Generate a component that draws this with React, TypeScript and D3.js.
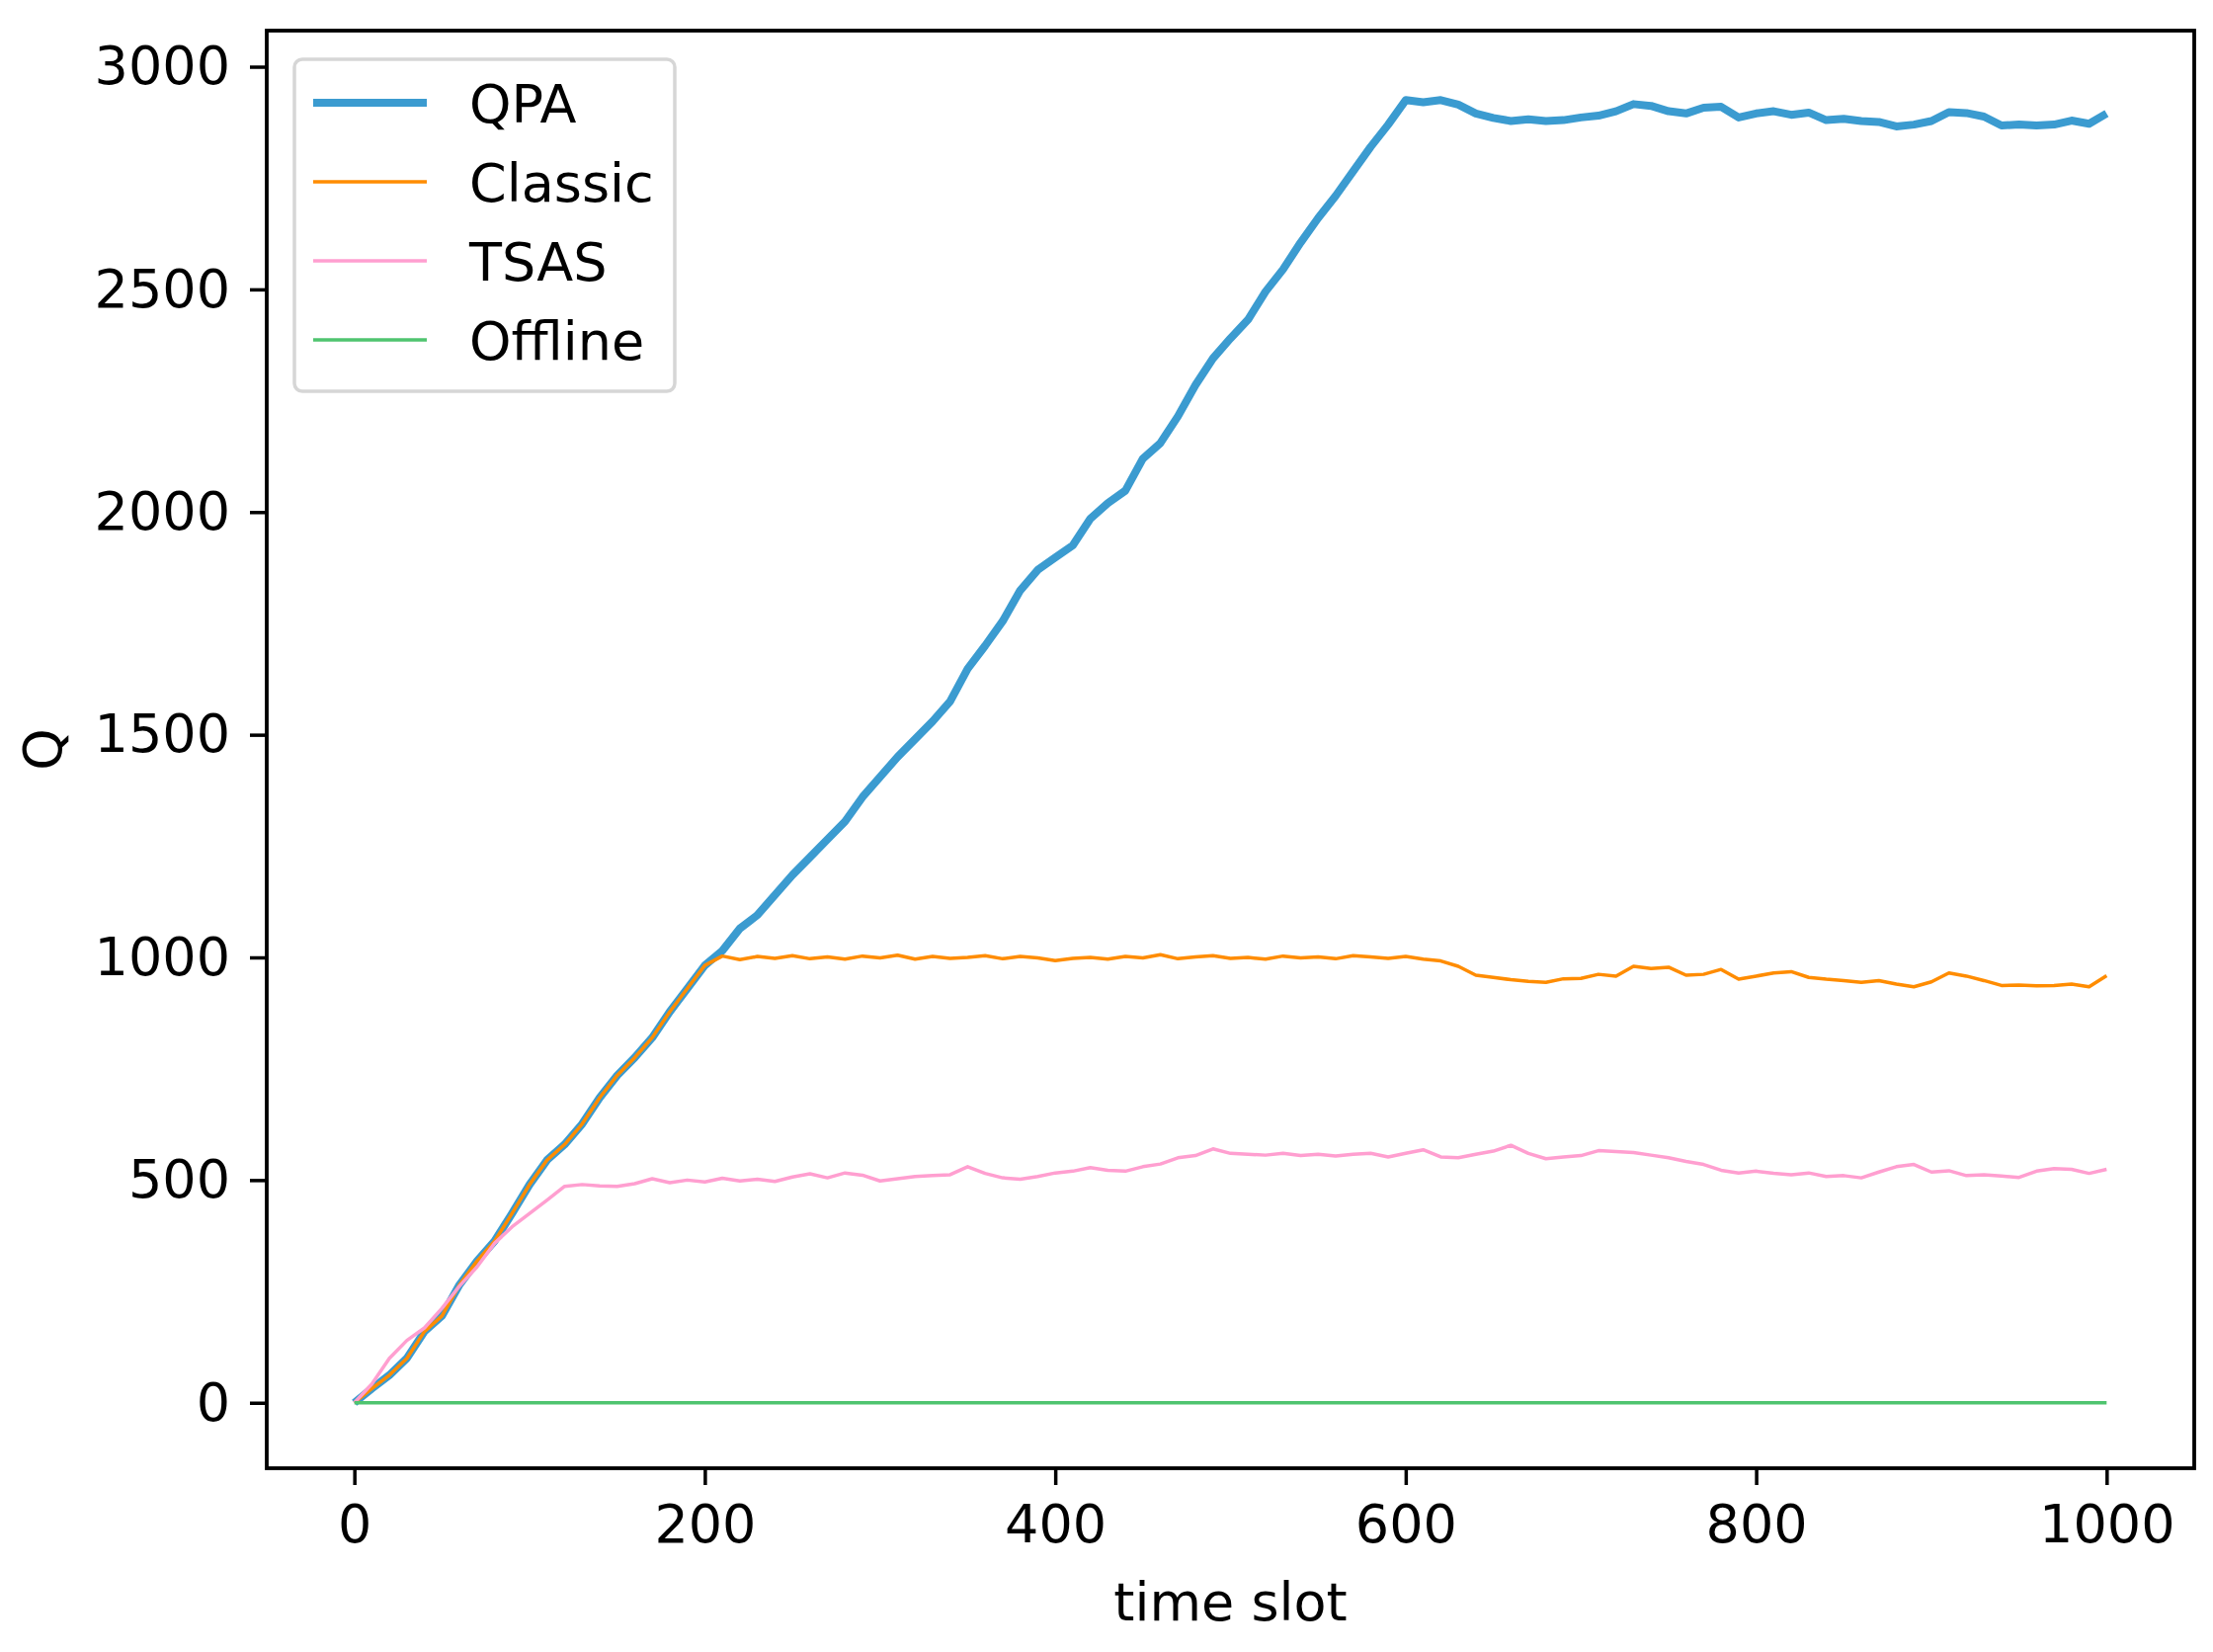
import * as d3 from "d3";
import { useRef, useEffect } from "react";

// time slots sampled every 10 slots
const timeSlots = [
  0, 10, 20, 30, 40, 50, 60, 70, 80, 90, 100, 110, 120, 130, 140, 150, 160, 170, 180, 190,
  200, 210, 220, 230, 240, 250, 260, 270, 280, 290, 300, 310, 320, 330, 340, 350, 360, 370, 380, 390,
  400, 410, 420, 430, 440, 450, 460, 470, 480, 490, 500, 510, 520, 530, 540, 550, 560, 570, 580, 590,
  600, 610, 620, 630, 640, 650, 660, 670, 680, 690, 700, 710, 720, 730, 740, 750, 760, 770, 780, 790,
  800, 810, 820, 830, 840, 850, 860, 870, 880, 890, 900, 910, 920, 930, 940, 950, 960, 970, 980, 990,
  1000,
];

const qpaValues = [
  0, 32, 62, 100, 160, 195, 265, 318, 363, 425, 490, 545, 580, 626, 685, 735, 775, 820, 878, 930,
  982, 1015, 1065, 1095, 1140, 1185, 1225, 1265, 1305, 1360, 1405, 1450, 1490, 1530, 1575, 1648, 1700, 1755, 1824, 1870,
  1898, 1925, 1985, 2020, 2048, 2120, 2155, 2215, 2285, 2345, 2390, 2432, 2495, 2545, 2605, 2660, 2710, 2765, 2820, 2870,
  2925, 2920, 2925, 2915, 2895, 2885, 2878, 2882, 2878, 2880, 2886, 2890, 2900, 2916, 2912, 2900, 2895, 2908, 2910, 2886,
  2895, 2900, 2892, 2897, 2880, 2883, 2878, 2876, 2866, 2870, 2878, 2898, 2896, 2888, 2868, 2870, 2868, 2870, 2879, 2872,
  2895,
];

const classicValues = [
  0, 32, 62, 100, 160, 195, 265, 318, 363, 425, 490, 545, 580, 626, 685, 735, 775, 820, 878, 930,
  982, 1003, 995, 1002, 998, 1004, 997, 1001, 996, 1003, 999, 1005, 996, 1002, 998, 1000, 1004, 997, 1002, 999,
  993, 998, 1000, 996, 1002, 999, 1006, 997, 1001, 1004, 998, 1000, 996, 1003, 999, 1001, 997, 1004, 1001, 998,
  1002, 996, 992, 980, 960, 955, 950, 946, 944, 952, 953, 962, 958, 980, 975, 978, 960, 962, 973, 951,
  958, 965, 968, 955, 951, 948, 944, 948, 940, 934, 945, 965, 958, 948, 937, 938, 936, 937, 940, 934,
  959,
];

const tsasValues = [
  0, 42, 100, 140, 168, 212, 262, 305, 358, 395, 425, 455, 486, 490, 487, 486, 492, 503, 494, 500,
  496, 504, 498, 502, 497, 507, 514, 505, 516, 511, 498, 503, 508, 510, 512, 530, 515, 505, 502, 508,
  516, 520, 528, 522, 520, 530, 536, 550, 555, 570, 560, 558, 556, 560, 555, 558, 554, 558, 560, 552,
  560, 568, 552, 550, 558, 565, 578, 560, 548, 552, 555, 566, 564, 562, 556, 550, 542, 535, 522, 516,
  520, 515, 512, 516, 508, 510, 505, 518, 530, 535, 518, 521, 510, 512, 509, 506, 520, 526, 524, 515,
  524,
];

const offlineValues = [
  0, 0, 0, 0, 0, 0, 0, 0, 0, 0, 0, 0, 0, 0, 0, 0, 0, 0, 0, 0,
  0, 0, 0, 0, 0, 0, 0, 0, 0, 0, 0, 0, 0, 0, 0, 0, 0, 0, 0, 0,
  0, 0, 0, 0, 0, 0, 0, 0, 0, 0, 0, 0, 0, 0, 0, 0, 0, 0, 0, 0,
  0, 0, 0, 0, 0, 0, 0, 0, 0, 0, 0, 0, 0, 0, 0, 0, 0, 0, 0, 0,
  0, 0, 0, 0, 0, 0, 0, 0, 0, 0, 0, 0, 0, 0, 0, 0, 0, 0, 0, 0,
  0,
];

const seriesNames = ["QPA", "Classic", "TSAS", "Offline"];
const xTicks = [0, 200, 400, 600, 800, 1000];
const yTicks = [0, 500, 1000, 1500, 2000, 2500, 3000];

export default function App() {
  const ref = useRef<SVGSVGElement>(null);

  useEffect(() => {
    const width = 2240;
    const height = 1672;
    const left = 270, right = 2221, top = 31, bottom = 1486;
    const font = "'DejaVu Sans', sans-serif";
    const fontSize = 54;

    const x = d3.scaleLinear().domain([-50, 1050]).range([left, right]);
    const y = d3.scaleLinear().domain([-147, 3081]).range([bottom, top]);

    const svg = d3.select(ref.current)
      .attr("width", width)
      .attr("height", height)
      .attr("viewBox", `0 0 ${width} ${height}`)
      .style("font-family", font);

    svg.selectAll("*").remove();

    svg.append("rect").attr("width", width).attr("height", height).attr("fill", "#fff");

    const series = [
      { name: seriesNames[0], values: qpaValues, color: "#3b9bd0", width: 8 },
      { name: seriesNames[1], values: classicValues, color: "#ff8c00", width: 3.5 },
      { name: seriesNames[2], values: tsasValues, color: "#ff9fd0", width: 3.5 },
      { name: seriesNames[3], values: offlineValues, color: "#4fc46f", width: 3.5 },
    ];

    const line = d3.line<number>()
      .x((_, i) => x(timeSlots[i]))
      .y(d => y(d));

    // --- lines ---
    const plot = svg.append("g");
    series.forEach(s => {
      plot.append("path")
        .datum(s.values)
        .attr("d", line)
        .attr("fill", "none")
        .attr("stroke", s.color)
        .attr("stroke-width", s.width)
        .attr("stroke-linejoin", "round")
        .attr("stroke-linecap", "butt");
    });

    // --- axes ---
    svg.append("g")
      .attr("transform", `translate(0,${bottom})`)
      .call(d3.axisBottom(x).tickValues(xTicks).tickSize(17).tickPadding(20).tickFormat(d3.format("d")))
      .call(g => g.select(".domain").remove())
      .call(g => g.selectAll(".tick line").attr("stroke", "#000").attr("stroke-width", 3.5))
      .call(g => g.selectAll(".tick text")
        .attr("font-family", font)
        .attr("font-size", fontSize)
        .attr("fill", "#000"));

    svg.append("g")
      .attr("transform", `translate(${left},0)`)
      .call(d3.axisLeft(y).tickValues(yTicks).tickSize(17).tickPadding(20).tickFormat(d3.format("d")))
      .call(g => g.select(".domain").remove())
      .call(g => g.selectAll(".tick line").attr("stroke", "#000").attr("stroke-width", 3.5))
      .call(g => g.selectAll(".tick text")
        .attr("font-family", font)
        .attr("font-size", fontSize)
        .attr("fill", "#000"));

    // frame
    svg.append("rect")
      .attr("x", left).attr("y", top)
      .attr("width", right - left).attr("height", bottom - top)
      .attr("fill", "none").attr("stroke", "#000").attr("stroke-width", 3.8);

    // axis labels
    svg.append("text")
      .attr("x", (left + right) / 2).attr("y", 1640)
      .attr("text-anchor", "middle")
      .attr("font-size", fontSize)
      .text("time slot");

    svg.append("text")
      .attr("transform", `translate(62,${(top + bottom) / 2}) rotate(-90)`)
      .attr("text-anchor", "middle")
      .attr("font-size", fontSize)
      .text("Q");

    // --- legend ---
    const legend = svg.append("g");
    legend.append("rect")
      .attr("x", 298).attr("y", 60).attr("width", 385).attr("height", 336).attr("rx", 8)
      .attr("fill", "#fff").attr("fill-opacity", 0.8)
      .attr("stroke", "#d6d6d6").attr("stroke-width", 3.5);

    const rowY = d3.scalePoint<string>().domain(seriesNames).range([104, 344]);
    series.forEach(s => {
      const yy = rowY(s.name)!;
      legend.append("line")
        .attr("x1", 317).attr("x2", 432).attr("y1", yy).attr("y2", yy)
        .attr("stroke", s.color).attr("stroke-width", s.width);
      legend.append("text")
        .attr("x", 475).attr("y", yy + fontSize * 0.365)
        .attr("font-size", fontSize)
        .text(s.name);
    });
  }, []);

  return (
    <div style={{ position: "absolute", left: 0, top: 0 }}>
      <svg ref={ref}></svg>
    </div>
  );
}
